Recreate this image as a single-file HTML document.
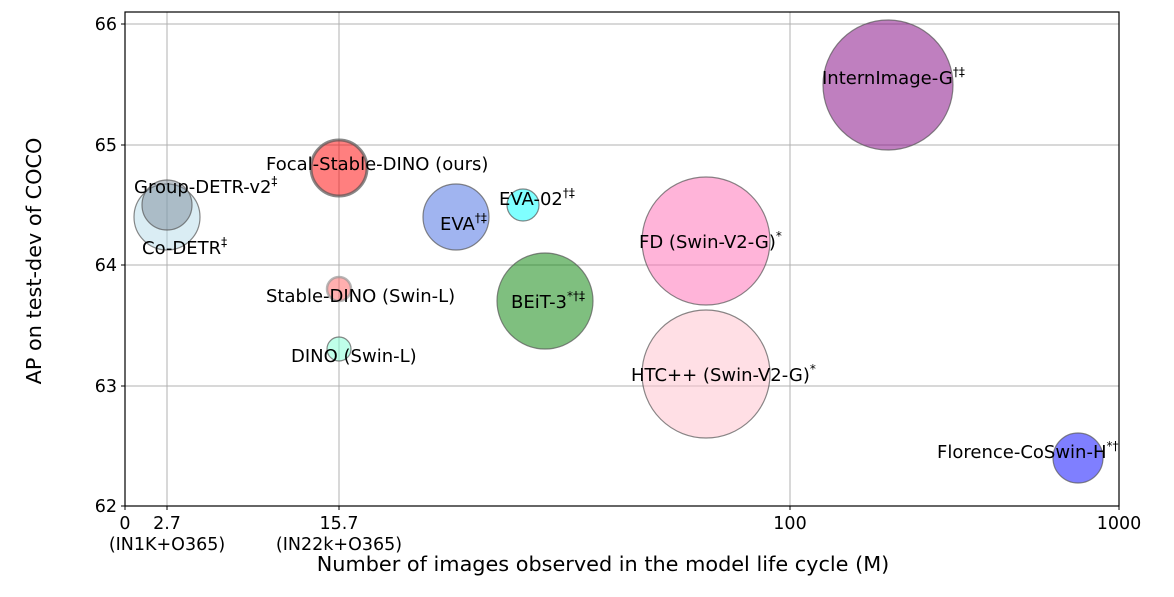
<!DOCTYPE html>
<html><head><meta charset="utf-8"><style>
html,body{margin:0;padding:0;background:#fff;}
svg{display:block;font-family:"DejaVu Sans","Liberation Sans",sans-serif;}
</style></head><body>
<svg width="1174" height="597" viewBox="0 0 1174 597">
<g stroke="#b0b0b0" stroke-width="1">
<line x1="125" y1="24" x2="1119" y2="24"/>
<line x1="125" y1="145" x2="1119" y2="145"/>
<line x1="125" y1="265" x2="1119" y2="265"/>
<line x1="125" y1="386" x2="1119" y2="386"/>
<line x1="167" y1="12" x2="167" y2="506"/>
<line x1="339" y1="12" x2="339" y2="506"/>
<line x1="790" y1="12" x2="790" y2="506"/>
</g>
<g stroke="#555" stroke-opacity="0.7" stroke-width="1.2">
<circle cx="167" cy="217" r="33" fill="#add8e6" fill-opacity="0.45"/>
<circle cx="167" cy="205" r="25" fill="#708090" fill-opacity="0.45"/>
<circle cx="339" cy="168" r="28" fill="#ff0000" fill-opacity="0.5" stroke-width="3"/>
<circle cx="339" cy="289" r="12" fill="#ff6060" fill-opacity="0.5" stroke="#999" stroke-width="2.5"/>
<circle cx="339" cy="349" r="12" fill="#7fffd4" fill-opacity="0.5"/>
<circle cx="456" cy="217" r="33" fill="#4169e1" fill-opacity="0.5"/>
<circle cx="523" cy="205" r="16" fill="#00ffff" fill-opacity="0.5"/>
<circle cx="545" cy="301" r="48" fill="#008000" fill-opacity="0.5"/>
<circle cx="706" cy="241" r="64" fill="#ff69b4" fill-opacity="0.5"/>
<circle cx="706" cy="374" r="64" fill="#ffc0cb" fill-opacity="0.5"/>
<circle cx="888" cy="85" r="65" fill="#800080" fill-opacity="0.5"/>
<circle cx="1078" cy="458" r="25" fill="#0000ff" fill-opacity="0.5"/>
</g>
<rect x="125" y="12" width="994" height="494" fill="none" stroke="#000" stroke-width="1.2"/>
<g font-size="18" fill="#000">
<text x="134" y="193">Group-DETR-v2<tspan font-size="12" dy="-8">‡</tspan></text>
<text x="142" y="254">Co-DETR<tspan font-size="12" dy="-8">‡</tspan></text>
<text x="266" y="170">Focal-Stable-DINO (ours)</text>
<text x="266" y="302">Stable-DINO (Swin-L)</text>
<text x="291" y="362">DINO (Swin-L)</text>
<text x="440" y="230">EVA<tspan font-size="12" dy="-8">†‡</tspan></text>
<text x="499" y="205">EVA-02<tspan font-size="12" dy="-8">†‡</tspan></text>
<text x="511" y="308">BEiT-3<tspan font-size="12" dy="-8">*†‡</tspan></text>
<text x="639" y="248">FD (Swin-V2-G)<tspan font-size="12" dy="-8">*</tspan></text>
<text x="631" y="381">HTC++ (Swin-V2-G)<tspan font-size="12" dy="-8">*</tspan></text>
<text x="822" y="84">InternImage-G<tspan font-size="12" dy="-8">†‡</tspan></text>
<text x="937" y="458">Florence-CoSwin-H<tspan font-size="12" dy="-8">*†</tspan></text>
</g>
<g stroke="#000" stroke-width="1">
<line x1="121" y1="24" x2="125" y2="24"/><line x1="121" y1="145" x2="125" y2="145"/>
<line x1="121" y1="265" x2="125" y2="265"/><line x1="121" y1="386" x2="125" y2="386"/>
<line x1="121" y1="506" x2="125" y2="506"/>
<line x1="125" y1="506" x2="125" y2="510"/><line x1="167" y1="506" x2="167" y2="510"/>
<line x1="339" y1="506" x2="339" y2="510"/><line x1="790" y1="506" x2="790" y2="510"/>
<line x1="1119" y1="506" x2="1119" y2="510"/>
</g>
<g font-size="17.5" fill="#000" text-anchor="end">
<text x="117" y="30">66</text><text x="117" y="151">65</text>
<text x="117" y="271">64</text><text x="117" y="392">63</text><text x="117" y="512">62</text>
</g>
<g font-size="17.5" fill="#000" text-anchor="middle">
<text x="125" y="529">0</text><text x="167" y="529">2.7</text>
<text x="167" y="550">(IN1K+O365)</text>
<text x="339" y="529">15.7</text><text x="339" y="550">(IN22k+O365)</text>
<text x="790" y="529">100</text><text x="1119" y="529">1000</text>
</g>
<text x="603" y="571" font-size="20.8" text-anchor="middle">Number of images observed in the model life cycle (M)</text>
<text transform="translate(41,261) rotate(-90)" font-size="20.8" text-anchor="middle">AP on test-dev of COCO</text>
</svg>
</body></html>
